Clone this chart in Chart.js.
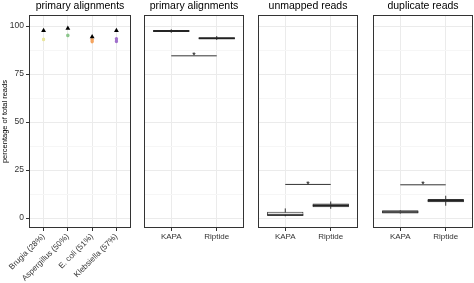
<!DOCTYPE html>
<html>
<head>
<meta charset="utf-8">
<script src="https://cdn.jsdelivr.net/npm/chart.js@4.4.1/dist/chart.umd.min.js"></script>
<style>
body { margin: 0; background: #fff; width: 474px; height: 283px; position: relative; overflow: hidden; }
canvas { position: absolute; top: 0; }
</style>
</head>
<body>
<canvas id="c1" width="135" height="283" style="left:0px"></canvas>
<canvas id="c2" width="112" height="283" style="left:136px"></canvas>
<canvas id="c3" width="112" height="283" style="left:250px"></canvas>
<canvas id="c4" width="111" height="283" style="left:363px"></canvas>
<script>
// ---------------- data ----------------
const panelTitles = ['primary alignments', 'primary alignments', 'unmapped reads', 'duplicate reads'];
const yTitle = 'percentage of total reads';
const yTicks = [0, 25, 50, 75, 100];
const yMinor = [12.5, 37.5, 62.5, 87.5];
const yRange = [-5.2, 105.7];

const species = ['Brugia (28%)', 'Aspergillus (50%)', 'E. coli (51%)', 'Klebsiella (57%)'];
const speciesColors = ['#e9e69c', '#8cc68c', '#f4a460', '#a070cc'];
const speciesPoints = [[93.2, 92.9], [95.0, 95.3], [91.8, 92.4, 93.1], [91.9, 92.7, 93.5]];
const speciesTriangles = [97.6, 98.8, 94.4, 97.7];

const kits = ['KAPA', 'Riptide'];
const kitFill = ['#e3e3e3', '#555555'];
// [whisker low, q1, median, q3, whisker high] for KAPA, Riptide
const primaryBox = [[96.5, 96.9, 97.4, 97.9, 98.3], [92.8, 93.0, 93.6, 94.2, 94.8]];
const unmappedBox = [[0.9, 1.2, 1.6, 3.3, 5.0], [4.8, 5.6, 6.5, 7.6, 8.6]];
const duplicateBox = [[2.3, 2.3, 3.1, 4.0, 4.0], [6.4, 8.2, 9.0, 9.9, 11.6]];
const sigLevels = [84.5, 17.5, 17.3];
const sigMark = '*';

// ---------------- helpers ----------------
const FONT = "'Liberation Sans', Arial, sans-serif";
const INK = '#333333';

const borderPlugin = {
  id: 'panelBorder',
  afterDraw(chart) {
    const a = chart.chartArea, c = chart.ctx;
    c.save();
    c.strokeStyle = INK;
    c.lineWidth = 1;
    c.strokeRect(Math.round(a.left) + 0.5, Math.round(a.top) + 0.5,
      Math.round(a.right - a.left) - 1, Math.round(a.bottom - a.top) - 1);
    c.restore();
  }
};

const sigPlugin = {
  id: 'sigMark',
  afterDatasetsDraw(chart, args, opts) {
    if (opts.level == null) return;
    const x = chart.scales.x, y = chart.scales.y, c = chart.ctx;
    c.save();
    c.fillStyle = '#000';
    c.font = '9px ' + FONT;
    c.textAlign = 'center';
    c.textBaseline = 'alphabetic';
    c.fillText(sigMark, (x.getPixelForValue(1) + x.getPixelForValue(2)) / 2, y.getPixelForValue(opts.level) + 2.5);
    c.restore();
  }
};

function yScale(showLabels, leftWidth) {
  return {
    min: yRange[0], max: yRange[1],
    afterBuildTicks: s => { s.ticks = yTicks.concat(yMinor).sort((a, b) => a - b).map(v => ({ value: v })); },
    afterFit: s => { s.width = leftWidth; },
    ticks: {
      display: showLabels,
      callback: v => yTicks.includes(v) ? v : '',
      font: { family: FONT, size: 8.5 }, color: INK, padding: 2
    },
    grid: {
      color: c => yTicks.includes(c.tick.value) ? '#ebebeb' : '#f6f6f6',
      tickColor: c => yTicks.includes(c.tick.value) ? INK : 'rgba(0,0,0,0)',
      tickLength: 3, drawTicks: showLabels
    },
    border: { display: false },
    title: {
      display: showLabels, text: yTitle,
      font: { family: FONT, size: 7.5 }, color: '#000', padding: { top: 0, bottom: 1 }
    }
  };
}

function xScale(labels, rotated) {
  return {
    type: 'linear', min: 0.4, max: labels.length + 0.6, offset: false,
    afterBuildTicks: s => { s.ticks = labels.map((l, i) => ({ value: i + 1 })); },
    afterFit: s => { s.height = 55; },
    ticks: {
      callback: v => labels[v - 1],
      font: { family: FONT, size: 8 }, color: INK, padding: 1,
      autoSkip: false,
      minRotation: rotated ? 45 : 0, maxRotation: rotated ? 45 : 0
    },
    grid: { color: '#ebebeb', tickColor: INK, tickLength: 3, offset: false },
    border: { display: false }
  };
}

function titleOpts(text, full) {
  return {
    display: true, text: text, fullSize: full, color: '#000',
    font: { family: FONT, size: 10.5, weight: 'normal', lineHeight: 1.25 },
    padding: { top: 0, bottom: 2 }
  };
}

// ---------------- panel 1: species ----------------
const speciesSets = species.map((s, i) => ({
  data: speciesPoints[i].map(v => ({ x: i + 1, y: v })),
  backgroundColor: speciesColors[i], borderColor: speciesColors[i],
  pointRadius: 1.6, borderWidth: 0, order: 2
}));
speciesSets.push({
  data: speciesTriangles.map((v, i) => ({ x: i + 1, y: v })),
  pointStyle: 'triangle', backgroundColor: '#000', borderColor: '#000',
  pointRadius: 2.8, borderWidth: 0, order: 1
});

new Chart(document.getElementById('c1'), {
  type: 'scatter',
  data: { datasets: speciesSets },
  options: {
    responsive: false, animation: false, events: [],
    layout: { autoPadding: false, padding: { left: 0, right: 4, top: 0, bottom: 0 } },
    plugins: { legend: { display: false }, tooltip: { enabled: false }, title: titleOpts(panelTitles[0], false) },
    scales: { x: xScale(species, true), y: yScale(true, 29) }
  },
  plugins: [borderPlugin]
});

// ---------------- panels 2-4: boxplots ----------------
function boxPanel(id, title, box, level, padLeft, padRight) {
  const datasets = [];
  kits.forEach((k, i) => {
    datasets.push({
      type: 'line',
      data: [{ x: i + 1, y: box[i][0] }, { x: i + 1, y: box[i][4] }],
      borderColor: INK, borderWidth: 1, pointRadius: 0, order: 3
    });
  });
  datasets.push({
    type: 'bar',
    data: kits.map((k, i) => ({ x: i + 1, y: [box[i][1], box[i][3]] })),
    backgroundColor: kitFill, borderColor: INK, borderWidth: 1, borderSkipped: false,
    grouped: false, barPercentage: 0.8, categoryPercentage: 1, order: 2
  });
  datasets.push({
    type: 'scatter',
    data: kits.map((k, i) => ({ x: i + 1, y: box[i][2] })),
    pointStyle: 'line', pointRadius: 18, borderColor: '#222', borderWidth: 1.5, order: 1
  });
  datasets.push({
    type: 'line',
    data: kits.map((k, i) => ({ x: i + 1, y: level })),
    borderColor: INK, borderWidth: 1, pointRadius: 0, order: 0
  });
  new Chart(document.getElementById(id), {
    type: 'bar',
    data: { datasets: datasets },
    options: {
      responsive: false, animation: false, events: [],
      layout: { autoPadding: false, padding: { left: padLeft, right: padRight, top: 0, bottom: 0 } },
      plugins: {
        legend: { display: false }, tooltip: { enabled: false },
        title: titleOpts(title, true), sigMark: { level: level }
      },
      scales: { x: xScale(kits, false), y: yScale(false, 0) }
    },
    plugins: [borderPlugin, sigPlugin]
  });
}

boxPanel('c2', panelTitles[1], primaryBox, sigLevels[0], 8, 4);
boxPanel('c3', panelTitles[2], unmappedBox, sigLevels[1], 8, 4);
boxPanel('c4', panelTitles[3], duplicateBox, sigLevels[2], 10, 1);
</script>
</body>
</html>
